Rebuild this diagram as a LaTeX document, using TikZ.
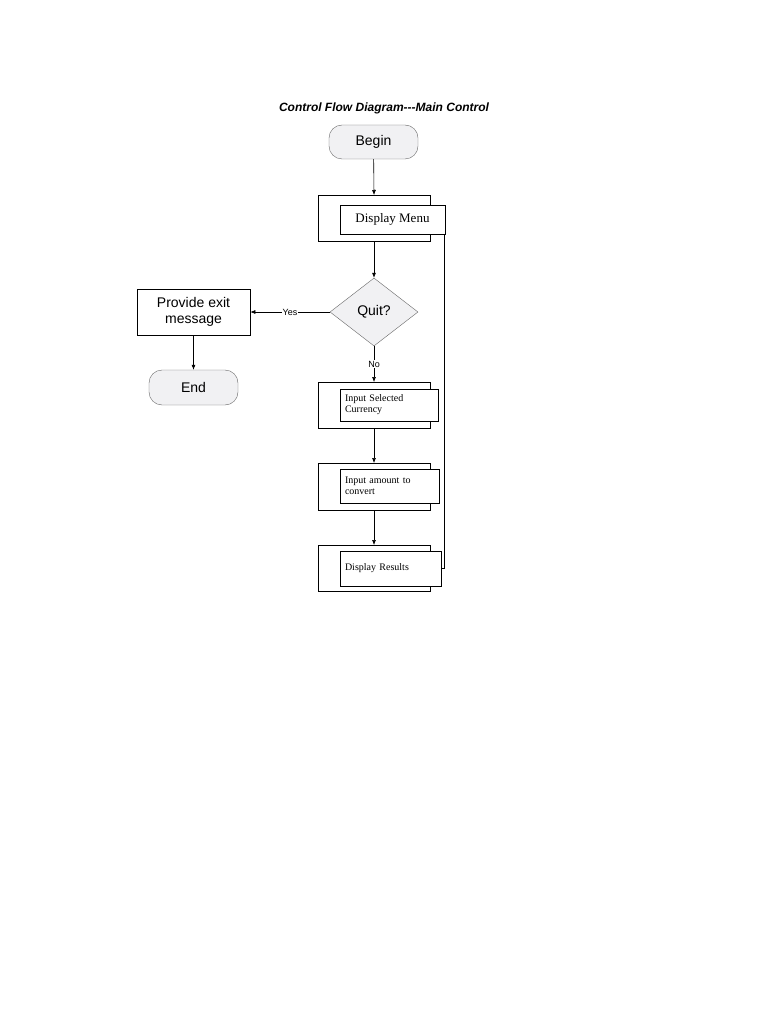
\documentclass[tikz,border=0pt]{standalone}
\usepackage{fontspec}
\setmainfont{Liberation Serif}
\newfontfamily\sansf{Liberation Sans}
\usetikzlibrary{shapes.geometric,arrows.meta}
\begin{document}
\begin{tikzpicture}[x=1pt,y=-1pt,
  term/.style={draw=black!60,fill=blue!8!gray!10,rounded corners=13pt,font=\sansf\fontsize{14}{16}\selectfont},
  proc/.style={draw,line width=0.6pt},
  inner/.style={draw,fill=white,line width=0.6pt,align=left,font=\fontsize{10}{11}\selectfont},
  arr/.style={-{Latex[length=5pt,width=4pt]},line width=0.6pt},
  lbl/.style={font=\sansf\fontsize{9}{10}\selectfont,fill=white,inner sep=1pt}]
\useasboundingbox (0,0) rectangle (768,1024);
\node[font=\sansf\bfseries\itshape\fontsize{12}{14}\selectfont] (title) at (384,108) {Control Flow Diagram---Main Control};
\node[term,minimum width=89pt,minimum height=34pt] (begin) at (373.5,142) {Begin};
% Display Menu
\draw[proc] (318,195) rectangle (430,241);
\coordinate (dmtop) at (374,195); \coordinate (dmbot) at (374,241);
\node[inner,draw,minimum width=105pt,minimum height=29pt,font=\fontsize{13}{14}\selectfont] (dm) at (392.5,219.5) {Display Menu};
\node[diamond,draw=black!60,fill=blue!8!gray!10,minimum width=88pt,minimum height=68pt,inner sep=0pt,aspect=1.3,font=\sansf\fontsize{14}{16}\selectfont] (quit) at (374,312) {Quit?};
\node[draw,line width=0.6pt,minimum width=113pt,minimum height=46pt,align=center,font=\sansf\fontsize{14}{16}\selectfont] (exit) at (193.5,312) {Provide exit\\message};
\node[term,minimum width=89pt,minimum height=35pt] (end) at (193.5,387.5) {End};
% Input selected
\draw[proc] (318,382) rectangle (430,428);
\coordinate (istop) at (374,382); \coordinate (isbot) at (374,428);
\node[inner,minimum width=98pt,minimum height=32pt,text width=88pt] (is) at (389,405) {Input Selected\\Currency};
% Input amount
\draw[proc] (318,463) rectangle (430,510);
\coordinate (iatop) at (374,463); \coordinate (iabot) at (374,510);
\node[inner,minimum width=99pt,minimum height=34pt,text width=89pt] (ia) at (389.5,486) {Input amount to\\convert};
% Display results
\draw[proc] (318,545) rectangle (430,591);
\coordinate (drtop) at (374,545);
\node[inner,minimum width=101pt,minimum height=35pt,text width=91pt] (dr) at (390.5,568.5) {Display Results};
\draw[arr] (begin) -- (dmtop);
\draw[arr] (dmbot) -- (quit.north);
\draw[arr] (quit.west) -- node[lbl,pos=0.5]{Yes} (exit.east);
\draw[arr] (exit) -- (end);
\draw[arr] (quit.south) -- node[lbl,pos=0.5]{No} (istop);
\draw[arr] (isbot) -- (iatop);
\draw[arr] (iabot) -- (drtop);
\draw[line width=0.6pt] (dr.east) -- ++(3,0) |- (dm.south east);
\end{tikzpicture}
\end{document}
